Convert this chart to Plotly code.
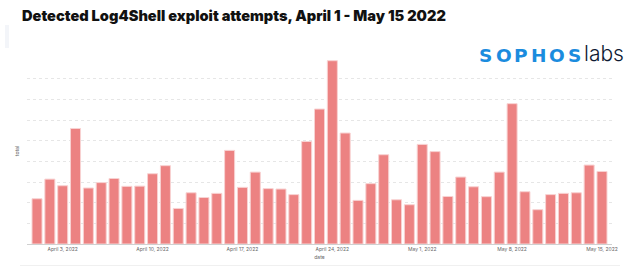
import pandas as pd
import plotly.graph_objects as go

dates = pd.date_range("2022-04-01", "2022-05-15", freq="D").strftime("%Y-%m-%d").tolist()
totals = [2.19, 3.14, 2.82, 5.59, 2.71, 2.97, 3.17, 2.79, 2.80, 3.40,
          3.79, 1.72, 2.48, 2.25, 2.45, 4.53, 2.74, 3.48, 2.68, 2.66,
          2.39, 4.96, 6.53, 8.87, 5.37, 2.11, 2.92, 4.32, 2.14, 1.90,
          4.82, 4.47, 2.30, 3.24, 2.77, 2.29, 3.48, 6.79, 2.53, 1.66,
          2.39, 2.45, 2.48, 3.82, 3.51]
tick_dates = ["2022-04-03", "2022-04-10", "2022-04-17", "2022-04-24",
              "2022-05-01", "2022-05-08", "2022-05-15"]
tick_labels = ["April 3, 2022", "April 10, 2022", "April 17, 2022", "April 24, 2022",
               "May 1, 2022", "May 8, 2022", "May 15, 2022"]
title_text = "Detected Log4Shell exploit attempts, April 1 - May 15 2022"
logo_letters = ["S", "O", "P", "H", "O", "S"]
logo_suffix = "labs"

W, H = 636, 268
ML, MR, MT, MB = 27, 24, 58, 24

x0 = pd.Timestamp(dates[0]) - pd.Timedelta(hours=0.78 * 24)
x1 = pd.Timestamp(dates[-1]) + pd.Timedelta(hours=0.78 * 24)

fig = go.Figure()
fig.add_trace(go.Bar(
    x=dates, y=totals,
    marker=dict(color="#EC8282", line=dict(color="#F8D2D2", width=1)),
    hoverinfo="skip",
))

fig.update_layout(
    width=W, height=H,
    margin=dict(l=ML, r=MR, t=MT, b=MB, autoexpand=False),
    paper_bgcolor="white", plot_bgcolor="white",
    bargap=0.22,
    showlegend=False,
    xaxis=dict(
        type="date", range=[x0, x1], automargin=False,
        tickvals=tick_dates, ticktext=tick_labels,
        tickfont=dict(family="Inter", size=5, color="#666"),
        showgrid=False, showline=True, linecolor="#d0d0d0", linewidth=1,
        ticks="", zeroline=False,
        title=dict(text="date", font=dict(family="Inter", size=5, color="#666"), standoff=4),
    ),
    yaxis=dict(
        range=[0, 9], dtick=1, showticklabels=False, automargin=False,
        showgrid=True, gridcolor="#e6e6e6", griddash="dot", gridwidth=1,
        zeroline=False, showline=False, ticks="",
        title=dict(text="total", font=dict(family="Inter", size=5, color="#666"), standoff=6),
    ),
    font=dict(family="Inter"),
)

def px(xp):
    return (xp - ML) / (W - ML - MR)
def py(yp):
    return (H - MB - yp) / (H - MT - MB)

fig.add_annotation(
    x=px(20), y=py(16), xref="paper", yref="paper", text=title_text,
    showarrow=False, xanchor="left", yanchor="middle",
    font=dict(family="Inter", size=14.6, color="#111111", weight=900),
)

# logo text: SOPHOS letters spread across the logo width
logo_left, logo_right = 477, 583
step = (logo_right - logo_left) / len(logo_letters)
for i, ch in enumerate(logo_letters):
    fig.add_annotation(
        x=px(logo_left + step * (i + 0.5)), y=py(55), xref="paper", yref="paper",
        text=ch, showarrow=False, xanchor="center", yanchor="middle",
        font=dict(family="DejaVu Sans", size=18.5, color="#1B8CDE", weight=700),
    )
fig.add_annotation(
    x=px(582), y=py(53), xref="paper", yref="paper", text=logo_suffix,
    showarrow=False, xanchor="left", yanchor="middle",
    font=dict(family="Inter", size=21, color="#0E1A33", weight=300),
)

# faint card edges
fig.add_shape(type="rect", xref="paper", yref="paper",
              x0=px(5), x1=px(9), y0=py(48), y1=py(25),
              line=dict(width=0), fillcolor="#F3F5F9", layer="below")
fig.add_shape(type="line", xref="paper", yref="paper",
              x0=px(20), x1=px(620), y0=py(265.5), y1=py(265.5),
              line=dict(color="#F0F0F0", width=1))

fig.write_html("out.html")
